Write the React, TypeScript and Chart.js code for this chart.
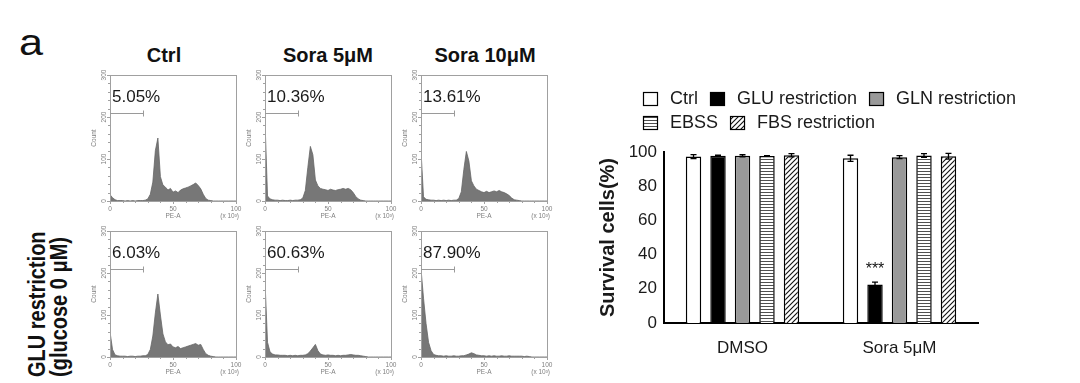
import React, { useEffect, useRef } from 'react';
import { Chart, registerables } from 'chart.js';

Chart.register(...registerables);

const FONT = '"Liberation Sans", Arial, Helvetica, sans-serif';

// ---------------- Flow cytometry histograms (PE-A, x10^3) ----------------
const HIST_X = [
  0, 2, 4, 6, 8, 10, 12, 14, 16, 18, 20, 22, 24, 26, 28, 30, 32, 34, 36, 38, 40, 42, 44, 46, 48, 50,
  52, 54, 56, 58, 60, 62, 64, 66, 68, 70, 72, 74, 76, 78, 80, 82, 84, 86, 88, 90, 92, 94, 96, 98, 100,
];
const HIST_X_TICKS = [0, 50, 100];
const HIST_Y_TICKS = [0, 100, 200, 300];
const GATE_RANGE = [0, 26];
const GATE_LEVEL = 210;

const COLUMN_TITLES = ['Ctrl', 'Sora 5μM', 'Sora 10μM'];
const ROW_TITLE = ['GLU restriction', '(glucose 0 μM)'];
const PCT_TOP = ['5.05%', '10.36%', '13.61%'];
const PCT_BOTTOM = ['6.03%', '60.63%', '87.90%'];

const COUNTS_CTRL_TOP = [
  15, 8, 3, 1, 1, 1, 0, 1, 0, 1, 0, 1, 1, 1, 2, 5, 16, 45, 120, 150, 58, 38, 33, 26, 30, 21,
  24, 20, 26, 29, 31, 33, 36, 39, 43, 37, 29, 16, 6, 2, 1, 0, 0, 0, 0, 0, 0, 0, 0, 0, 0,
];
const COUNTS_SORA5_TOP = [
  190, 12, 5, 3, 2, 2, 1, 2, 1, 1, 2, 1, 2, 2, 3, 7, 25, 80, 130, 110, 50, 36, 30, 28, 27, 25,
  28, 26, 25, 27, 28, 30, 28, 30, 27, 20, 11, 5, 2, 1, 0, 0, 0, 0, 0, 0, 0, 0, 0, 0, 0,
];
const COUNTS_SORA10_TOP = [
  120, 10, 4, 3, 2, 2, 1, 2, 1, 2, 1, 2, 1, 2, 2, 6, 22, 75, 118, 95, 48, 36, 28, 25, 22, 20,
  23, 20, 22, 24, 22, 25, 22, 20, 17, 13, 7, 3, 2, 1, 0, 0, 0, 0, 0, 0, 0, 0, 0, 0, 0,
];
const COUNTS_CTRL_GLU = [
  60, 18, 5, 3, 2, 2, 2, 1, 2, 2, 1, 2, 2, 3, 3, 6, 18, 50, 105, 150, 100, 55, 36, 29, 31, 24,
  22, 25, 20, 22, 24, 26, 28, 30, 32, 28, 30, 18, 8, 4, 2, 1, 0, 0, 0, 0, 0, 0, 0, 0, 0,
];
const COUNTS_SORA5_GLU = [
  180, 35, 12, 7, 5, 5, 4, 4, 4, 3, 4, 3, 4, 3, 4, 4, 5, 8, 14, 22, 30, 15, 7, 5, 4, 5,
  4, 4, 3, 4, 3, 4, 4, 5, 6, 5, 4, 4, 3, 2, 1, 0, 0, 0, 0, 0, 0, 0, 0, 0, 0,
];
const COUNTS_SORA10_GLU = [
  210, 140, 80, 35, 15, 6, 4, 3, 3, 2, 3, 2, 2, 3, 2, 2, 3, 3, 5, 7, 10, 8, 5, 4, 3, 3,
  2, 3, 2, 3, 2, 2, 3, 2, 2, 3, 2, 2, 2, 2, 2, 1, 2, 1, 0, 0, 0, 0, 0, 0, 0,
];

// ---------------- Survival bar chart ----------------
const GROUPS = ['DMSO', 'Sora 5μM'];
const SERIES = ['Ctrl', 'GLU restriction', 'GLN restriction', 'EBSS', 'FBS restriction'];
const SURV_CTRL = [97.3, 96.3];
const SURV_GLU = [97.8, 22.5];
const SURV_GLN = [97.8, 97.0];
const SURV_EBSS = [97.6, 98.0];
const SURV_FBS = [98.1, 97.5];
const ERR_CTRL = [1.2, 1.8];
const ERR_GLU = [0.3, 1.4];
const ERR_GLN = [0.6, 0.9];
const ERR_EBSS = [0.2, 1.1];
const ERR_FBS = [0.9, 1.7];
const SIG_GLU = ['', '***'];
const Y_MIN = 0;
const Y_MAX = 100;
const Y_STEP = 20;
const Y_TITLE = 'Survival cells(%)';

// ---------------- layout ----------------
const COL_LEFT = [110, 265, 421];
const ROW_TOP = [75, 231];
const PLOT = 126;
const PAD = { left: 24, top: 8, right: 12, bottom: 22 };

const histDeco = {
  id: 'histDeco',
  afterDraw(chart: any, _args: any, opts: any) {
    const { ctx, chartArea: a, scales } = chart;
    const x = scales.x;
    const y = scales.y;
    ctx.save();
    // frame
    ctx.strokeStyle = '#a0a0a0';
    ctx.lineWidth = 1;
    ctx.strokeRect(Math.round(a.left) + 0.5, Math.round(a.top) + 0.5, Math.round(a.right - a.left), Math.round(a.bottom - a.top));
    // ticks
    ctx.beginPath();
    for (let v = 0; v <= 100; v += 10) {
      const px = Math.round(x.getPixelForValue(v)) + 0.5;
      const len = HIST_X_TICKS.includes(v) ? 3 : 2;
      ctx.moveTo(px, a.bottom);
      ctx.lineTo(px, a.bottom + len);
    }
    for (let v = 0; v <= 300; v += 20) {
      const py = Math.round(y.getPixelForValue(v)) + 0.5;
      const len = HIST_Y_TICKS.includes(v) ? 3 : 2;
      ctx.moveTo(a.left, py);
      ctx.lineTo(a.left - len, py);
    }
    ctx.stroke();
    // small labels
    ctx.fillStyle = '#808080';
    ctx.font = `6.5px ${FONT}`;
    ctx.textAlign = 'center';
    ctx.textBaseline = 'middle';
    HIST_X_TICKS.forEach((v) => ctx.fillText(String(v), x.getPixelForValue(v), a.bottom + 8));
    ctx.fillText('PE-A', (a.left + a.right) / 2, a.bottom + 15);
    ctx.textAlign = 'right';
    ctx.fillText('(x 10³)', a.right + 3, a.bottom + 15);
    HIST_Y_TICKS.forEach((v) => {
      ctx.save();
      ctx.translate(a.left - 6, y.getPixelForValue(v));
      ctx.rotate(-Math.PI / 2);
      ctx.textAlign = 'center';
      ctx.fillText(String(v), 0, 0);
      ctx.restore();
    });
    ctx.save();
    ctx.translate(a.left - 16, (a.top + a.bottom) / 2);
    ctx.rotate(-Math.PI / 2);
    ctx.textAlign = 'center';
    ctx.fillText('Count', 0, 0);
    ctx.restore();
    // gate marker
    const gy = Math.round(y.getPixelForValue(GATE_LEVEL)) + 0.5;
    const gx0 = x.getPixelForValue(GATE_RANGE[0]);
    const gx1 = Math.round(x.getPixelForValue(GATE_RANGE[1])) + 0.5;
    ctx.strokeStyle = '#9a9a9a';
    ctx.beginPath();
    ctx.moveTo(gx0, gy);
    ctx.lineTo(gx1, gy);
    ctx.moveTo(gx1, gy - 3);
    ctx.lineTo(gx1, gy + 3);
    ctx.stroke();
    // percentage
    ctx.fillStyle = '#1a1a1a';
    ctx.font = `17px ${FONT}`;
    ctx.textAlign = 'left';
    ctx.textBaseline = 'alphabetic';
    ctx.fillText(opts.pct, a.left + 2, a.top + 26.5);
    ctx.restore();
  },
};

function Histogram({ counts, pct, left, top }: { counts: number[]; pct: string; left: number; top: number }) {
  const ref = useRef<HTMLCanvasElement>(null);
  const W = PAD.left + PLOT + PAD.right;
  const H = PAD.top + PLOT + PAD.bottom;
  useEffect(() => {
    const chart = new Chart(ref.current as HTMLCanvasElement, {
      type: 'line',
      data: {
        datasets: [
          {
            data: HIST_X.map((xv, i) => ({ x: xv, y: counts[i] })),
            fill: 'origin',
            backgroundColor: '#777777',
            borderColor: '#666666',
            borderWidth: 0.8,
            pointRadius: 0,
            tension: 0,
          },
        ],
      },
      options: {
        animation: false,
        responsive: false,
        events: [],
        layout: { padding: PAD },
        scales: {
          x: { type: 'linear', min: 0, max: 100, display: false },
          y: { min: 0, max: 300, display: false },
        },
        plugins: { legend: { display: false }, tooltip: { enabled: false }, histDeco: { pct } } as any,
      },
      plugins: [histDeco],
    } as any);
    return () => chart.destroy();
  }, []);
  return (
    <canvas
      ref={ref}
      width={W}
      height={H}
      style={{ position: 'absolute', left: left - PAD.left, top: top - PAD.top, width: W, height: H }}
    />
  );
}

function makeStripe(ctx: CanvasRenderingContext2D) {
  const c = document.createElement('canvas');
  c.width = 4;
  c.height = 3;
  const g = c.getContext('2d') as CanvasRenderingContext2D;
  g.fillStyle = '#ffffff';
  g.fillRect(0, 0, 4, 3);
  g.fillStyle = '#505050';
  g.fillRect(0, 0, 4, 1);
  return ctx.createPattern(c, 'repeat');
}

function makeHatch(ctx: CanvasRenderingContext2D) {
  const s = 5;
  const c = document.createElement('canvas');
  c.width = s;
  c.height = s;
  const g = c.getContext('2d') as CanvasRenderingContext2D;
  g.fillStyle = '#ffffff';
  g.fillRect(0, 0, s, s);
  g.strokeStyle = '#111111';
  g.lineWidth = 1.1;
  g.beginPath();
  g.moveTo(0, s);
  g.lineTo(s, 0);
  g.moveTo(-1, 1);
  g.lineTo(1, -1);
  g.moveTo(s - 1, s + 1);
  g.lineTo(s + 1, s - 1);
  g.stroke();
  return ctx.createPattern(c, 'repeat');
}

const errorBars = {
  id: 'errorBars',
  afterDatasetsDraw(chart: any) {
    const { ctx } = chart;
    const y = chart.scales.y;
    ctx.save();
    chart.data.datasets.forEach((ds: any, i: number) => {
      const meta = chart.getDatasetMeta(i);
      meta.data.forEach((el: any, j: number) => {
        const v = ds.data[j];
        const e = ds.errors[j];
        const x = el.x;
        const yt = y.getPixelForValue(v + e);
        const yb = y.getPixelForValue(v - e);
        ctx.strokeStyle = '#000';
        ctx.lineWidth = 1.3;
        ctx.beginPath();
        ctx.moveTo(x, yt);
        ctx.lineTo(x, yb);
        ctx.moveTo(x - 3, yt);
        ctx.lineTo(x + 3, yt);
        ctx.moveTo(x - 3, yb);
        ctx.lineTo(x + 3, yb);
        ctx.stroke();
        if (ds.sig && ds.sig[j]) {
          ctx.fillStyle = '#111';
          ctx.font = `16px ${FONT}`;
          ctx.textAlign = 'center';
          ctx.textBaseline = 'alphabetic';
          ctx.fillText(ds.sig[j], x, yt - 8);
        }
      });
    });
    ctx.restore();
  },
};

const boxLegend = {
  id: 'boxLegend',
  afterDraw(chart: any, _a: any, opts: any) {
    const { ctx } = chart;
    ctx.save();
    ctx.font = `18px ${FONT}`;
    ctx.textBaseline = 'middle';
    ctx.textAlign = 'left';
    opts.rows.forEach((row: number[], r: number) => {
      let x = opts.x;
      const cy = opts.y + r * opts.rowGap;
      row.forEach((i) => {
        const ds = chart.data.datasets[i];
        ctx.fillStyle = ds.backgroundColor;
        ctx.fillRect(x, cy - 7, 15, 14);
        ctx.strokeStyle = '#000';
        ctx.lineWidth = 1.2;
        ctx.strokeRect(x + 0.5, cy - 6.5, 14, 13);
        ctx.fillStyle = '#1a1a1a';
        ctx.fillText(ds.label, x + 27, cy);
        x += 27 + ctx.measureText(ds.label).width + 12;
      });
    });
    ctx.restore();
  },
};

function SurvivalChart() {
  const ref = useRef<HTMLCanvasElement>(null);
  useEffect(() => {
    const canvas = ref.current as HTMLCanvasElement;
    const ctx = canvas.getContext('2d') as CanvasRenderingContext2D;
    const fills: any[] = ['#ffffff', '#000000', '#999999', makeStripe(ctx), makeHatch(ctx)];
    const values = [SURV_CTRL, SURV_GLU, SURV_GLN, SURV_EBSS, SURV_FBS];
    const errors = [ERR_CTRL, ERR_GLU, ERR_GLN, ERR_EBSS, ERR_FBS];
    const sigs = [null, SIG_GLU, null, null, null];
    const chart = new Chart(canvas, {
      type: 'bar',
      data: {
        labels: GROUPS,
        datasets: SERIES.map((name, i) => ({
          label: name,
          data: values[i],
          errors: errors[i],
          sig: sigs[i],
          backgroundColor: fills[i],
          borderColor: '#000000',
          borderWidth: 1.5,
          categoryPercentage: 0.78,
          barPercentage: 0.63,
        })),
      },
      options: {
        animation: false,
        responsive: false,
        events: [],
        layout: { padding: { top: 152, right: 102, left: 0, bottom: 0 } },
        scales: {
          x: {
            grid: { display: false, drawTicks: false },
            border: { display: true, color: '#000', width: 2 },
            ticks: { font: { family: FONT, size: 17 }, color: '#1a1a1a', padding: 15 },
            afterFit: (s: any) => {
              s.height = 60;
            },
          },
          y: {
            min: Y_MIN,
            max: Y_MAX,
            grid: { display: false, drawTicks: false },
            border: { display: true, color: '#000', width: 2 },
            ticks: { stepSize: Y_STEP, font: { family: FONT, size: 17 }, color: '#1a1a1a', padding: 7 },
            title: {
              display: true,
              text: Y_TITLE,
              font: { family: FONT, size: 20, weight: 'bold' },
              color: '#1a1a1a',
              padding: { top: 6, bottom: 0 },
            },
            afterFit: (s: any) => {
              s.width = 74;
            },
          },
        },
        plugins: {
          legend: { display: false },
          tooltip: { enabled: false },
          boxLegend: { x: 53, y: 99, rowGap: 24, rows: [[0, 1, 2], [3, 4]] },
        } as any,
      },
      plugins: [errorBars, boxLegend],
    } as any);
    return () => chart.destroy();
  }, []);
  return (
    <canvas ref={ref} width={490} height={383} style={{ position: 'absolute', left: 590, top: 0, width: 490, height: 383 }} />
  );
}

export default function App() {
  const panels = [
    { counts: COUNTS_CTRL_TOP, pct: PCT_TOP[0] },
    { counts: COUNTS_SORA5_TOP, pct: PCT_TOP[1] },
    { counts: COUNTS_SORA10_TOP, pct: PCT_TOP[2] },
    { counts: COUNTS_CTRL_GLU, pct: PCT_BOTTOM[0] },
    { counts: COUNTS_SORA5_GLU, pct: PCT_BOTTOM[1] },
    { counts: COUNTS_SORA10_GLU, pct: PCT_BOTTOM[2] },
  ];
  return (
    <div
      style={{
        position: 'absolute',
        left: 0,
        top: 0,
        width: 1080,
        height: 383,
        overflow: 'hidden',
        background: '#fff',
        fontFamily: FONT,
        color: '#111',
      }}
    >
      <div
        style={{
          position: 'absolute',
          left: 19,
          top: 24.5,
          fontSize: 36,
          lineHeight: '36px',
          transformOrigin: '0 0',
          transform: 'scaleX(1.2)',
        }}
      >
        a
      </div>
      {COLUMN_TITLES.map((t, i) => (
        <div
          key={t}
          style={{
            position: 'absolute',
            left: [164, 328, 485][i] - 100,
            width: 200,
            top: 44.8,
            textAlign: 'center',
            fontWeight: 'bold',
            fontSize: 20,
            lineHeight: '20px',
          }}
        >
          {t}
        </div>
      ))}
      <div
        style={{
          position: 'absolute',
          left: 26.8,
          top: 377,
          transformOrigin: '0 0',
          transform: 'rotate(-90deg) scaleY(1.15)',
          whiteSpace: 'nowrap',
          fontWeight: 'bold',
          fontSize: 20,
          lineHeight: '19px',
        }}
      >
        <div>{ROW_TITLE[0]}</div>
        <div>{ROW_TITLE[1]}</div>
      </div>
      {panels.map((p, i) => (
        <Histogram key={i} counts={p.counts} pct={p.pct} left={COL_LEFT[i % 3]} top={ROW_TOP[Math.floor(i / 3)]} />
      ))}
      <SurvivalChart />
    </div>
  );
}
